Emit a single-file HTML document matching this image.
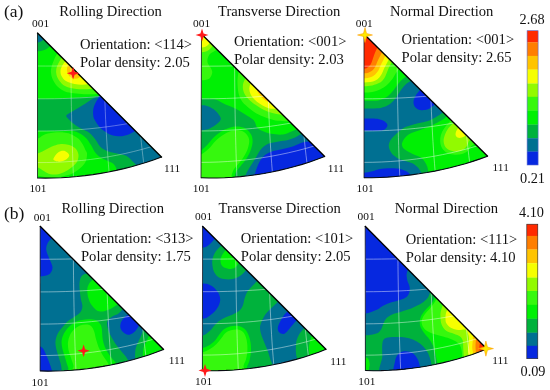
<!DOCTYPE html>
<html lang="en"><head><meta charset="utf-8"><title>Inverse pole figures</title>
<style>
html,body{margin:0;padding:0;background:#fff}
svg{display:block}
text{font-family:"Liberation Serif","Times New Roman",serif;fill:#111}
.t{font-size:14.6px}.l{font-size:11.4px}.p{font-size:17.5px}.c{font-size:14.3px}
.g{fill:none;stroke:#fff;stroke-opacity:.55;stroke-width:.8}
.o{fill:none;stroke:#0a0a14;stroke-width:1;stroke-linejoin:miter}
</style></head><body>
<svg width="550" height="390" viewBox="0 0 550 390">
<rect width="550" height="390" fill="#fff"/>
<defs>
<clipPath id="t1"><path d="M37.5 33L37.5 178L45.44 178.12L53.38 177.99L61.3 177.68L69.22 177.18L77.12 176.5L84.99 175.64L92.84 174.6L100.65 173.38L108.43 171.98L116.17 170.4L123.87 168.63L131.51 166.69L139.1 164.56L146.63 162.25L154.1 159.75L161.5 157Z"/></clipPath>
<clipPath id="t2"><path d="M201.5 34L201 177.8L208.91 178.07L216.82 178L224.72 177.72L232.6 177.25L240.47 176.58L248.32 175.72L256.14 174.67L263.93 173.43L271.68 172L279.4 170.37L287.07 168.56L294.69 166.56L302.26 164.36L309.77 161.96L317.22 159.35L324.6 156.4Z"/></clipPath>
<clipPath id="t3"><path d="M364 34L364 177.7L371.91 177.7L379.81 177.49L387.71 177.11L395.59 176.55L403.46 175.82L411.3 174.91L419.11 173.83L426.9 172.57L434.65 171.14L442.35 169.54L450.02 167.76L457.63 165.81L465.19 163.68L472.69 161.38L480.13 158.89L487.5 156.2Z"/></clipPath>
<clipPath id="t4"><path d="M40.2 226.3L40.1 370.9L48 371.13L55.9 371.05L63.79 370.75L71.66 370.26L79.52 369.58L87.36 368.71L95.17 367.65L102.94 366.41L110.69 364.97L118.39 363.35L126.05 361.53L133.65 359.52L141.21 357.33L148.7 354.93L156.14 352.33L163.5 349.4Z"/></clipPath>
<clipPath id="t5"><path d="M202.6 226.3L202.4 370.4L210.31 370.69L218.22 370.64L226.12 370.39L234.01 369.93L241.88 369.28L249.73 368.44L257.55 367.41L265.34 366.19L273.1 364.78L280.81 363.18L288.48 361.38L296.1 359.39L303.67 357.21L311.18 354.83L318.62 352.24L326 349.3Z"/></clipPath>
<clipPath id="t6"><path d="M365.2 226.3L365.4 370.5L373.18 370.72L380.95 370.63L388.71 370.32L396.46 369.83L404.19 369.14L411.9 368.26L419.58 367.19L427.24 365.94L434.85 364.5L442.43 362.87L449.96 361.05L457.45 359.04L464.88 356.83L472.25 354.44L479.56 351.83L486.8 348.9Z"/></clipPath>
<radialGradient id="ys"><stop offset="0" stop-color="#ffee00"/><stop offset=".45" stop-color="#ffdd00"/><stop offset="1" stop-color="#ffa000"/></radialGradient>
</defs>
<g clip-path="url(#t1)">
<rect x="34.5" y="30" width="130" height="151" fill="#00f004"/>
<path d="M30 139.5C31.27 133.45 35.48 139.37 37.6 138.7C39.72 138.03 41 136.37 42.7 135.5C44.4 134.63 45.88 134 47.8 133.5C49.72 133 52.07 132.7 54.2 132.5C56.33 132.3 58.47 132.22 60.6 132.3C62.73 132.38 65.28 132.68 67 133C68.72 133.32 68.97 133.25 70.9 134.2C72.83 135.15 76.57 136.88 78.6 138.7C80.63 140.52 81.95 143.18 83.1 145.1C84.25 147.02 84.85 148.8 85.5 150.2C86.15 151.6 86.95 151.67 87 153.5C87.05 155.33 86.77 158.9 85.8 161.2C84.83 163.5 83 165.52 81.2 167.3C79.4 169.08 77.18 170.62 75 171.9C72.82 173.18 70.92 174.15 68.1 175C65.28 175.85 61.57 176.62 58.1 177C54.63 177.38 50.73 177.5 47.3 177.3C43.87 177.1 40.38 176.18 37.5 175.8C34.62 175.42 31.25 181.05 30 175C28.75 168.95 28.73 145.55 30 139.5Z" fill="#36f80e"/>
<path d="M33 154.5C33.75 152.42 35.63 154.18 37.5 153.5C39.37 152.82 41.8 151.57 44.2 150.4C46.6 149.23 49.33 147.53 51.9 146.5C54.47 145.47 56.9 144.5 59.6 144.2C62.3 143.9 65.53 144.05 68.1 144.7C70.67 145.35 73.28 146.52 75 148.1C76.72 149.68 78.02 152.02 78.4 154.2C78.78 156.38 78.25 159.15 77.3 161.2C76.35 163.25 74.62 164.83 72.7 166.5C70.78 168.17 68.23 169.92 65.8 171.2C63.37 172.48 60.67 173.7 58.1 174.2C55.53 174.7 52.72 174.7 50.4 174.2C48.08 173.7 46.35 172.35 44.2 171.2C42.05 170.05 39.37 168.17 37.5 167.3C35.63 166.43 33.75 168.13 33 166C32.25 163.87 32.25 156.58 33 154.5Z" fill="#92fa00"/>
<path d="M53.5 158.5C54.02 157.12 56.32 153.68 58.1 152.4C59.88 151.12 62.35 150.37 64.2 150.8C66.05 151.23 68.82 153.6 69.2 155C69.58 156.4 67.97 158.1 66.5 159.2C65.03 160.3 62.32 161.35 60.4 161.6C58.48 161.85 56.15 161.22 55 160.7C53.85 160.18 52.98 159.88 53.5 158.5Z" fill="#f6ff00"/>
<path d="M60 50C56.2 48.93 58.2 51.93 57.2 53.6C56.2 55.27 54.95 57.77 54 60C53.05 62.23 52 64.83 51.5 67C51 69.17 50.75 70.83 51 73C51.25 75.17 51.83 77.67 53 80C54.17 82.33 56 85.08 58 87C60 88.92 62.37 90.45 65 91.5C67.63 92.55 70.63 92.85 73.8 93.3C76.97 93.75 80.8 94.03 84 94.2C87.2 94.37 90.47 94.37 93 94.3C95.53 94.23 97.03 94.18 99.2 93.8C101.37 93.42 105.87 94.3 106 92C106.13 89.7 104.33 85.33 100 80C95.67 74.67 86.67 65 80 60C73.33 55 63.8 51.07 60 50Z" fill="#36f80e"/>
<path d="M65 54C62.8 53.95 62.88 56.2 61.8 57.7C60.72 59.2 59.42 61.12 58.5 63C57.58 64.88 56.63 67 56.3 69C55.97 71 55.97 73 56.5 75C57.03 77 58.08 79.17 59.5 81C60.92 82.83 62.48 84.72 65 86C67.52 87.28 71.27 88.17 74.6 88.7C77.93 89.23 81.8 89.23 85 89.2C88.2 89.17 91.3 89.03 93.8 88.5C96.3 87.97 100.3 88.42 100 86C99.7 83.58 96.17 78.67 92 74C87.83 69.33 79.5 61.33 75 58C70.5 54.67 67.2 54.05 65 54Z" fill="#92fa00"/>
<path d="M68.5 58C66.73 58.38 66.43 60.05 65.4 61.3C64.37 62.55 63.12 63.97 62.3 65.5C61.48 67.03 60.63 68.75 60.5 70.5C60.37 72.25 60.58 74.25 61.5 76C62.42 77.75 63.82 79.67 66 81C68.18 82.33 71.93 83.37 74.6 84C77.27 84.63 79.57 84.83 82 84.8C84.43 84.77 87.03 84.43 89.2 83.8C91.37 83.17 95.2 83.3 95 81C94.8 78.7 91.17 73.67 88 70C84.83 66.33 79.25 61 76 59C72.75 57 70.27 57.62 68.5 58Z" fill="#f6ff00"/>
<path d="M70 62C68.33 61.83 68.52 63.67 68 65C67.48 66.33 66.82 68.33 66.9 70C66.98 71.67 67.65 73.67 68.5 75C69.35 76.33 70.75 77.37 72 78C73.25 78.63 74.67 78.97 76 78.8C77.33 78.63 78.83 77.8 80 77C81.17 76.2 83.33 75.83 83 74C82.67 72.17 80.17 68 78 66C75.83 64 71.67 62.17 70 62Z" fill="#ffc400"/>
<path d="M33 51.2C33.75 55.57 36.17 51.23 37.5 51.2C38.83 51.17 39.85 51.18 41 51C42.15 50.82 43.28 50.57 44.4 50.1C45.52 49.63 46.68 48.97 47.7 48.2C48.72 47.43 49.62 46.53 50.5 45.5C51.38 44.47 53.92 45.42 53 42C52.08 38.58 48.33 27.83 45 25C41.67 22.17 35 20.63 33 25C31 29.37 32.25 46.83 33 51.2Z" fill="#00b23c"/>
<path d="M33 42.5C33.75 45.42 36.17 42.67 37.5 42.5C38.83 42.33 39.92 42.08 41 41.5C42.08 40.92 43.17 39.92 44 39C44.83 38.08 46.67 38.33 46 36C45.33 33.67 42.17 26.83 40 25C37.83 23.17 34.17 22.08 33 25C31.83 27.92 32.25 39.58 33 42.5Z" fill="#007092"/>
<path d="M30 98.8C31.25 93.48 32.5 98.87 37.5 98.8C42.5 98.73 52.92 98.62 60 98.4C67.08 98.18 74.17 97.85 80 97.5C85.83 97.15 91.5 96.67 95 96.3C98.5 95.93 98.83 95.68 101 95.3C103.17 94.92 101.5 88.88 108 94C114.5 99.12 129.67 116.67 140 126C150.33 135.33 165 141.83 170 150C175 158.17 175 169.67 170 175C165 180.33 148.67 181.5 140 182C131.33 182.5 121.85 180 118 178C114.15 176 117.6 172.3 116.9 170C116.2 167.7 115.2 165.67 113.8 164.2C112.4 162.73 110.55 162.22 108.5 161.2C106.45 160.18 103.68 159.52 101.5 158.1C99.32 156.68 97.15 154.88 95.4 152.7C93.65 150.52 92.57 147.45 91 145C89.43 142.55 87.83 139.92 86 138C84.17 136.08 82.22 134.68 80 133.5C77.78 132.32 76.87 131.35 72.7 130.9C68.53 130.45 60.87 130.83 55 130.8C49.13 130.77 41.67 130.72 37.5 130.7C33.33 130.68 31.25 136.02 30 130.7C28.75 125.38 28.75 104.12 30 98.8Z" fill="#00b23c"/>
<path d="M66.3 115.6C66.63 114.65 68.38 113.87 70 112.8C71.62 111.73 73.83 110.5 76 109.2C78.17 107.9 80.67 106.47 83 105C85.33 103.53 88 101.65 90 100.4C92 99.15 93.17 98.33 95 97.5C96.83 96.67 99.17 95.98 101 95.4C102.83 94.82 99.5 88.9 106 94C112.5 99.1 129 116.33 140 126C151 135.67 166.67 143.33 172 152C177.33 160.67 177.33 174 172 178C166.67 182 145.83 177.67 140 176C134.17 174.33 137.63 169.83 137 168C136.37 166.17 136.98 166.13 136.2 165C135.42 163.87 133.97 162.73 132.3 161.2C130.63 159.67 128.77 157.08 126.2 155.8C123.63 154.52 119.98 154.27 116.9 153.5C113.82 152.73 110.52 152.37 107.7 151.2C104.88 150.03 102.05 148.43 100 146.5C97.95 144.57 97.2 141.9 95.4 139.6C93.6 137.3 91.77 134.62 89.2 132.7C86.63 130.78 82.7 129.68 80 128.1C77.3 126.52 75 124.8 73 123.2C71 121.6 69.12 119.77 68 118.5C66.88 117.23 65.97 116.55 66.3 115.6Z" fill="#007092"/>
<path d="M101.5 93C96.33 91.67 100.08 95.17 99 97C97.92 98.83 95.97 101.83 95 104C94.03 106.17 93.45 107.83 93.2 110C92.95 112.17 93.03 115 93.5 117C93.97 119 94.92 120.25 96 122C97.08 123.75 98.5 125.92 100 127.5C101.5 129.08 103.33 130.33 105 131.5C106.67 132.67 108.17 133.75 110 134.5C111.83 135.25 114 135.72 116 136C118 136.28 120 136.4 122 136.2C124 136 126.17 135.45 128 134.8C129.83 134.15 131.5 133.18 133 132.3C134.5 131.42 135.67 130.55 137 129.5C138.33 128.45 142.17 130.08 141 126C139.83 121.92 136.58 110.5 130 105C123.42 99.5 106.67 94.33 101.5 93Z" fill="#0628e0"/>
<path class="g" style="stroke-opacity:.42" d="M37.5 66.02L45.85 66.06L54.2 66.04L62.54 65.98L70.87 65.87L79.19 65.71L87.48 65.51L95.75 65.26L103.99 64.95L112.19 64.61L120.37 64.21L128.5 63.76L136.58 63.27L144.62 62.72L152.6 62.13L160.53 61.48L168.4 60.79L176.21 60.04L183.94 59.24L191.61 58.39L199.2 57.49L206.71 56.53L214.13 55.52L221.47 54.45L228.72 53.33"/>
<path class="g" style="stroke-opacity:.42" d="M37.5 98.8L45.95 98.81L54.4 98.72L62.83 98.54L71.26 98.26L79.66 97.89L88.05 97.43L96.4 96.86L104.73 96.2L113.02 95.45L121.28 94.6L129.48 93.65L137.64 92.6L145.75 91.45L153.8 90.21L161.79 88.86L169.71 87.42L177.56 85.87L185.34 84.22L193.04 82.47L200.65 80.61L208.18 78.64L215.61 76.57L222.95 74.38L230.18 72.09"/>
<path class="g" style="stroke-opacity:.42" d="M37.5 131.07L46.12 131.05L54.73 130.9L63.33 130.6L71.91 130.15L80.48 129.56L89.02 128.83L97.53 127.95L106 126.93L114.44 125.76L122.83 124.45L131.17 122.99L139.45 121.39L147.68 119.63L155.84 117.73L163.92 115.68L171.94 113.47L179.87 111.12L187.71 108.61L195.46 105.95L203.12 103.13L210.67 100.16L218.11 97.02L225.44 93.73L232.64 90.27"/>
<path class="g" style="stroke-opacity:.42" d="M37.5 162.59L46.36 162.56L55.21 162.33L64.04 161.9L72.86 161.28L81.66 160.47L90.43 159.47L99.16 158.27L107.85 156.88L116.49 155.29L125.08 153.5L133.61 151.52L142.07 149.34L150.46 146.97L158.78 144.4L167 141.63L175.14 138.66L183.18 135.48L191.12 132.11L198.94 128.54L206.64 124.75L214.22 120.77L221.67 116.57L228.98 112.17L236.14 107.56"/>
<path class="g" style="stroke-opacity:.42" d="M70.75 33.22L70.76 41.4L70.78 49.56L70.82 57.72L70.87 65.87L70.94 74L71.03 82.11L71.14 90.2L71.26 98.26L71.39 106.29L71.55 114.29L71.72 122.24L71.91 130.15L72.12 138.02L72.35 145.83L72.6 153.59L72.86 161.28L73.15 168.92L73.46 176.49L73.8 183.99L74.15 191.42"/>
<path class="g" style="stroke-opacity:.42" d="M103.74 33.45L103.76 41.33L103.8 49.22L103.88 57.09L103.99 64.95L104.13 72.8L104.3 80.63L104.5 88.43L104.73 96.2L105 103.94L105.3 111.65L105.63 119.31L106 126.93L106.41 134.5L106.85 142.02L107.33 149.48L107.85 156.88L108.41 164.21L109.01 171.47L109.65 178.66L110.34 185.77"/>
<path class="g" style="stroke-opacity:.42" d="M136.23 33.66L136.25 41.08L136.32 48.48L136.43 55.88L136.58 63.27L136.78 70.64L137.02 77.98L137.31 85.31L137.64 92.6L138.02 99.86L138.45 107.08L138.93 114.26L139.45 121.39L140.03 128.46L140.66 135.49L141.34 142.45L142.07 149.34L142.86 156.17L143.71 162.92L144.63 169.6L145.6 176.19"/>
</g>
<path class="o" style="stroke-width:.8;stroke:#1a1a22" d="M37.5 32.7L37.5 178.4"/>
<path class="o" style="stroke-width:1.1" d="M37.5 178L45.44 178.12L53.38 177.99L61.3 177.68L69.22 177.18L77.12 176.5L84.99 175.64L92.84 174.6L100.65 173.38L108.43 171.98L116.17 170.4L123.87 168.63L131.51 166.69L139.1 164.56L146.63 162.25L154.1 159.75L161.5 157"/>
<path class="o" style="stroke-width:1.35;stroke:#000" d="M37.2 32.7L161.9 157.4"/>
<g clip-path="url(#t2)">
<rect x="198.5" y="31" width="129.1" height="149.8" fill="#00f004"/>
<path d="M196 33C199.67 28.03 214.58 47.67 218 50.5C221.42 53.33 217.42 49.7 216.5 50C215.58 50.3 213.67 51.53 212.5 52.3C211.33 53.07 210.33 53.45 209.5 54.6C208.67 55.75 207.8 57.78 207.5 59.2C207.2 60.62 207.37 61.97 207.7 63.1C208.03 64.23 208.93 65.1 209.5 66C210.07 66.9 210.65 67.58 211.1 68.5C211.55 69.42 212.08 70.48 212.2 71.5C212.32 72.52 212.25 73.43 211.8 74.6C211.35 75.77 210.63 77.6 209.5 78.5C208.37 79.4 206.35 79.7 205 80C203.65 80.3 202.9 80.25 201.4 80.3C199.9 80.35 196.9 88.18 196 80.3C195.1 72.42 192.33 37.97 196 33Z" fill="#36f80e"/>
<path d="M196 52.3C196.92 56.35 199.83 52.43 201.5 52.3C203.17 52.17 204.58 52.05 206 51.5C207.42 50.95 208.83 50 210 49C211.17 48 212.17 46.67 213 45.5C213.83 44.33 216.33 44.92 215 42C213.67 39.08 208.17 30.33 205 28C201.83 25.67 197.5 23.95 196 28C194.5 32.05 195.08 48.25 196 52.3Z" fill="#92fa00"/>
<path d="M196 47.6C196.92 50.87 199.92 47.73 201.5 47.6C203.08 47.47 204.33 47.32 205.5 46.8C206.67 46.28 207.67 45.38 208.5 44.5C209.33 43.62 209.92 42.42 210.5 41.5C211.08 40.58 213.08 41.25 212 39C210.92 36.75 206.67 29.83 204 28C201.33 26.17 197.33 24.73 196 28C194.67 31.27 195.08 44.33 196 47.6Z" fill="#f6ff00"/>
<path d="M240 68C236.42 66.75 238.92 70.5 238.5 72.5C238.08 74.5 237.62 77.42 237.5 80C237.38 82.58 237.55 85.5 237.8 88C238.05 90.5 238.22 92.67 239 95C239.78 97.33 240.75 99.75 242.5 102C244.25 104.25 247.17 106.58 249.5 108.5C251.83 110.42 253.92 112.03 256.5 113.5C259.08 114.97 261.85 116.13 265 117.3C268.15 118.47 272.07 119.85 275.4 120.5C278.73 121.15 282.23 121.03 285 121.2C287.77 121.37 289.83 121.37 292 121.5C294.17 121.63 299.17 125.58 298 122C296.83 118.42 291.33 107 285 100C278.67 93 267.5 85.33 260 80C252.5 74.67 243.58 69.25 240 68Z" fill="#36f80e"/>
<path d="M248 74C245.97 73.62 246.58 76.18 245.8 77.7C245.02 79.22 243.77 81.18 243.3 83.1C242.83 85.02 242.63 87.13 243 89.2C243.37 91.27 244.25 93.53 245.5 95.5C246.75 97.47 248.58 99.28 250.5 101C252.42 102.72 254.75 104.3 257 105.8C259.25 107.3 261.45 108.8 264 110C266.55 111.2 269.63 112.23 272.3 113C274.97 113.77 277.95 114.07 280 114.6C282.05 115.13 282.93 115.88 284.6 116.2C286.27 116.52 291.6 120.03 290 116.5C288.4 112.97 280.33 101.08 275 95C269.67 88.92 262.5 83.5 258 80C253.5 76.5 250.03 74.38 248 74Z" fill="#92fa00"/>
<path d="M253 80C249.8 78.35 251.42 81.68 250.8 83.1C250.18 84.52 249.35 86.68 249.3 88.5C249.25 90.32 249.63 92.17 250.5 94C251.37 95.83 253 97.92 254.5 99.5C256 101.08 257.75 102.28 259.5 103.5C261.25 104.72 263.12 105.92 265 106.8C266.88 107.68 268.82 108.4 270.8 108.8C272.78 109.2 275.45 108.95 276.9 109.2C278.35 109.45 278.32 110 279.5 110.3C280.68 110.6 285.58 113.88 284 111C282.42 108.12 275.17 98.17 270 93C264.83 87.83 256.2 81.65 253 80Z" fill="#f6ff00"/>
<path d="M257 88C256.33 88.25 257.33 91.08 258 92.5C258.67 93.92 259.92 95.28 261 96.5C262.08 97.72 263.33 98.92 264.5 99.8C265.67 100.68 267.08 101.6 268 101.8C268.92 102 271 102.8 270 101C269 99.2 264.17 93.17 262 91C259.83 88.83 257.67 87.75 257 88Z" fill="#ffc400"/>
<path d="M196 98.8C196.77 84.43 197.7 98.75 200.6 98.8C203.5 98.85 210.2 98.67 213.4 99.1C216.6 99.53 217.45 100.37 219.8 101.4C222.15 102.43 224.93 104.12 227.5 105.3C230.07 106.48 232.85 107.33 235.2 108.5C237.55 109.67 239.47 111.02 241.6 112.3C243.73 113.58 246.1 115 248 116.2C249.9 117.4 251.78 118.37 253 119.5C254.22 120.63 254.67 121.75 255.3 123C255.93 124.25 255.7 125.7 256.8 127C257.9 128.3 259.5 129.67 261.9 130.8C264.3 131.93 267.68 133.18 271.2 133.8C274.72 134.42 279.62 134.88 283 134.5C286.38 134.12 288.92 132.5 291.5 131.5C294.08 130.5 296.25 129.42 298.5 128.5C300.75 127.58 299.75 122.42 305 126C310.25 129.58 325.83 140.17 330 150C334.17 159.83 352.33 179.17 330 185C307.67 190.83 218.33 199.37 196 185C173.67 170.63 195.23 113.17 196 98.8Z" fill="#00b23c"/>
<path d="M196 151C196.83 145.57 199.13 151.4 201 150.4C202.87 149.4 205.13 147.1 207.2 145C209.27 142.9 211.02 140.08 213.4 137.8C215.78 135.52 218.82 132.97 221.5 131.3C224.18 129.63 226.75 128.58 229.5 127.8C232.25 127.02 235.3 126.43 238 126.6C240.7 126.77 243.52 127.47 245.7 128.8C247.88 130.13 249.95 132.42 251.1 134.6C252.25 136.78 252.73 139.13 252.6 141.9C252.47 144.67 251.45 148.25 250.3 151.2C249.15 154.15 247.37 157.05 245.7 159.6C244.03 162.15 241.83 164.57 240.3 166.5C238.77 168.43 237.4 169.78 236.5 171.2C235.6 172.62 235.32 173.37 234.9 175C234.48 176.63 240.48 179.67 234 181C227.52 182.33 202.33 188 196 183C189.67 178 195.17 156.43 196 151Z" fill="#00f004"/>
<path d="M196 155C196.83 150.25 198.83 155.58 201 154.5C203.17 153.42 206.58 150.75 209 148.5C211.42 146.25 213.17 143.25 215.5 141C217.83 138.75 220.5 136.62 223 135C225.5 133.38 228 132.08 230.5 131.3C233 130.52 235.75 130.18 238 130.3C240.25 130.42 242.33 130.97 244 132C245.67 133.03 247.13 134.83 248 136.5C248.87 138.17 249.32 139.75 249.2 142C249.08 144.25 248.33 147.33 247.3 150C246.27 152.67 244.63 155.5 243 158C241.37 160.5 239.08 163 237.5 165C235.92 167 234.5 168.17 233.5 170C232.5 171.83 231.92 174.17 231.5 176C231.08 177.83 236.92 179.83 231 181C225.08 182.17 201.83 187.33 196 183C190.17 178.67 195.17 159.75 196 155Z" fill="#36f80e"/>
<path d="M196 105.2C196.77 101.02 198.77 105.18 200.6 105.3C202.43 105.42 204.87 105.27 207 105.9C209.13 106.53 211.48 107.72 213.4 109.1C215.32 110.48 217.27 112.6 218.5 114.2C219.73 115.8 220.8 117.3 220.8 118.7C220.8 120.1 219.73 121.32 218.5 122.6C217.27 123.88 215.32 125.27 213.4 126.4C211.48 127.53 209.13 128.75 207 129.4C204.87 130.05 202.43 130.13 200.6 130.3C198.77 130.47 196.77 134.58 196 130.4C195.23 126.22 195.23 109.38 196 105.2Z" fill="#007092"/>
<path d="M246.5 180C231.67 178.23 245.58 176.32 246 174.4C246.42 172.48 247.92 170.4 249 168.5C250.08 166.6 251.25 165 252.5 163C253.75 161 255.12 158.75 256.5 156.5C257.88 154.25 258.87 151.62 260.8 149.5C262.73 147.38 265.1 145.13 268.1 143.8C271.1 142.47 275.48 142.13 278.8 141.5C282.12 140.87 285.3 140.67 288 140C290.7 139.33 293 138.37 295 137.5C297 136.63 298.63 135.48 300 134.8C301.37 134.12 301.87 134.03 303.2 133.4C304.53 132.77 302.7 127.4 308 131C313.3 134.6 330.5 146 335 155C339.5 164 349.75 180.83 335 185C320.25 189.17 261.33 181.77 246.5 180Z" fill="#007092"/>
<path d="M255.5 180C242.22 178 255.05 175.08 255.3 173C255.55 170.92 256.22 169.5 257 167.5C257.78 165.5 258.75 163 260 161C261.25 159 262.83 156.97 264.5 155.5C266.17 154.03 267.92 153.07 270 152.2C272.08 151.33 274.5 150.9 277 150.3C279.5 149.7 282.25 149.27 285 148.6C287.75 147.93 290.58 147.3 293.5 146.3C296.42 145.3 299.75 143.43 302.5 142.6C305.25 141.77 307.75 141.73 310 141.3C312.25 140.87 311.83 137.22 316 140C320.17 142.78 331.83 150.5 335 158C338.17 165.5 348.25 181.33 335 185C321.75 188.67 268.78 182 255.5 180Z" fill="#0628e0"/>
<path class="g" d="M201.39 66.19L209.71 66.17L218.03 66.11L226.34 66L234.63 65.85L242.91 65.65L251.18 65.4L259.41 65.1L267.62 64.75L275.8 64.36L283.94 63.92L292.04 63.43L300.1 62.89L308.11 62.31L316.07 61.67L323.97 60.98L331.81 60.25L339.59 59.46L347.3 58.62L354.93 57.74L362.5 56.79L369.98 55.8L377.38 54.75L384.7 53.65L391.92 52.49"/>
<path class="g" d="M201.27 98.82L209.69 98.79L218.1 98.65L226.51 98.43L234.9 98.11L243.28 97.69L251.63 97.18L259.96 96.57L268.26 95.87L276.52 95.07L284.74 94.18L292.92 93.19L301.06 92.1L309.14 90.91L317.16 89.63L325.12 88.24L333.02 86.76L340.85 85.17L348.6 83.49L356.28 81.7L363.87 79.81L371.37 77.81L378.78 75.7L386.1 73.49L393.31 71.16"/>
<path class="g" d="M201.16 130.96L209.74 130.9L218.32 130.7L226.89 130.35L235.44 129.86L243.98 129.23L252.49 128.45L260.97 127.53L269.42 126.46L277.82 125.25L286.19 123.9L294.5 122.4L302.76 120.75L310.96 118.96L319.09 117.02L327.16 114.93L335.15 112.69L343.05 110.31L350.88 107.77L358.61 105.07L366.24 102.22L373.78 99.22L381.2 96.06L388.51 92.73L395.7 89.25"/>
<path class="g" d="M201.05 162.36L209.88 162.27L218.69 161.99L227.5 161.52L236.29 160.86L245.05 160L253.79 158.95L262.49 157.71L271.15 156.27L279.77 154.64L288.33 152.82L296.83 150.8L305.27 148.58L313.64 146.17L321.93 143.57L330.14 140.76L338.25 137.76L346.27 134.55L354.19 131.15L361.99 127.55L369.68 123.74L377.25 119.73L384.68 115.51L391.98 111.08L399.12 106.45"/>
<path class="g" d="M234.62 33.34L234.6 41.48L234.59 49.61L234.61 57.74L234.63 65.85L234.68 73.95L234.73 82.02L234.81 90.08L234.9 98.11L235.01 106.1L235.14 114.06L235.28 121.98L235.44 129.86L235.63 137.69L235.83 145.47L236.05 153.19L236.29 160.86L236.55 168.46L236.83 176L237.14 183.46L237.47 190.86"/>
<path class="g" d="M267.49 33.38L267.48 41.23L267.49 49.08L267.54 56.92L267.62 64.75L267.73 72.57L267.88 80.36L268.05 88.13L268.26 95.87L268.5 103.58L268.77 111.25L269.08 118.88L269.42 126.46L269.79 134L270.21 141.48L270.66 148.91L271.15 156.27L271.69 163.57L272.26 170.8L272.88 177.96L273.54 185.04"/>
<path class="g" d="M299.85 33.41L299.85 40.79L299.89 48.17L299.97 55.54L300.1 62.89L300.27 70.23L300.49 77.55L300.75 84.84L301.06 92.1L301.41 99.32L301.81 106.51L302.26 113.66L302.76 120.75L303.31 127.8L303.91 134.79L304.56 141.72L305.27 148.58L306.04 155.38L306.86 162.1L307.75 168.74L308.69 175.3"/>
</g>
<path class="o" style="stroke-width:.8;stroke:#1a1a22" d="M201.5 33.7L201 178.2"/>
<path class="o" style="stroke-width:1.1" d="M201 177.8L208.91 178.07L216.82 178L224.72 177.72L232.6 177.25L240.47 176.58L248.32 175.72L256.14 174.67L263.93 173.43L271.68 172L279.4 170.37L287.07 168.56L294.69 166.56L302.26 164.36L309.77 161.96L317.22 159.35L324.6 156.4"/>
<path class="o" style="stroke-width:1.35;stroke:#000" d="M201.2 33.7L325 156.8"/>
<g clip-path="url(#t3)">
<rect x="361" y="31" width="129.5" height="149.7" fill="#007092"/>
<path d="M358 108.5C359 122.42 361.62 108.5 364 108.5C366.38 108.5 369.38 108.63 372.3 108.5C375.22 108.37 378.68 108.35 381.5 107.7C384.32 107.05 386.88 106.13 389.2 104.6C391.52 103.07 393.6 100.68 395.4 98.5C397.2 96.32 398.47 93.65 400 91.5C401.53 89.35 403.18 87.13 404.6 85.6C406.02 84.07 407.35 83.07 408.5 82.3C409.65 81.53 410.25 81.55 411.5 81C412.75 80.45 417.92 84.17 416 79C414.08 73.83 407.67 59 400 50C392.33 41 377 29.17 370 25C363 20.83 360 11.08 358 25C356 38.92 357 94.58 358 108.5Z" fill="#00b23c"/>
<path d="M358 100.8C359 113.43 361.62 100.8 364 100.8C366.38 100.8 369.63 100.93 372.3 100.8C374.97 100.67 377.43 100.77 380 100C382.57 99.23 385.4 97.87 387.7 96.2C390 94.53 392.03 92.07 393.8 90C395.57 87.93 396.85 85.58 398.3 83.8C399.75 82.02 401.18 80.52 402.5 79.3C403.82 78.08 404.95 77.38 406.2 76.5C407.45 75.62 411.87 78.42 410 74C408.13 69.58 401.67 58.17 395 50C388.33 41.83 376.17 29.17 370 25C363.83 20.83 360 12.37 358 25C356 37.63 357 88.17 358 100.8Z" fill="#00f004"/>
<path d="M358 92.5C359 103.75 361.62 92.58 364 92.5C366.38 92.42 369.63 92.5 372.3 92C374.97 91.5 377.55 90.67 380 89.5C382.45 88.33 385 86.67 387 85C389 83.33 390.5 81.5 392 79.5C393.5 77.5 394.75 74.83 396 73C397.25 71.17 398.33 69.83 399.5 68.5C400.67 67.17 404.58 68.92 403 65C401.42 61.08 395.5 51.67 390 45C384.5 38.33 375.33 28.33 370 25C364.67 21.67 360 13.75 358 25C356 36.25 357 81.25 358 92.5Z" fill="#36f80e"/>
<path d="M358 86.3C359 96.5 361.62 86.35 364 86.2C366.38 86.05 369.72 85.97 372.3 85.4C374.88 84.83 377.72 83.7 379.5 82.8C381.28 81.9 382.02 81.1 383 80C383.98 78.9 384.67 77.67 385.4 76.2C386.13 74.73 386.68 72.9 387.4 71.2C388.12 69.5 388.88 67.63 389.7 66C390.52 64.37 391.42 62.82 392.3 61.4C393.18 59.98 396.22 61.07 395 57.5C393.78 53.93 389.17 45.42 385 40C380.83 34.58 374.5 27.5 370 25C365.5 22.5 360 14.78 358 25C356 35.22 357 76.1 358 86.3Z" fill="#92fa00"/>
<path d="M358 82.6C359 92.18 361.95 82.6 364 82.5C366.05 82.4 368.4 82.33 370.3 82C372.2 81.67 373.9 81.25 375.4 80.5C376.9 79.75 378.2 78.67 379.3 77.5C380.4 76.33 381.2 74.98 382 73.5C382.8 72.02 383.32 70.27 384.1 68.6C384.88 66.93 385.85 65.13 386.7 63.5C387.55 61.87 388.32 60.3 389.2 58.8C390.08 57.3 393.53 57.97 392 54.5C390.47 51.03 384 42.92 380 38C376 33.08 371.67 27.17 368 25C364.33 22.83 359.67 15.4 358 25C356.33 34.6 357 73.02 358 82.6Z" fill="#f6ff00"/>
<path d="M358 78.2C359 87.07 362.42 78.25 364 78.2C365.58 78.15 366.28 78.1 367.5 77.9C368.72 77.7 370.02 77.57 371.3 77C372.58 76.43 374.02 75.57 375.2 74.5C376.38 73.43 377.52 72.1 378.4 70.6C379.28 69.1 379.72 67.2 380.5 65.5C381.28 63.8 382.25 62.1 383.1 60.4C383.95 58.7 384.78 56.78 385.6 55.3C386.42 53.82 389.27 54.72 388 51.5C386.73 48.28 381.67 40.42 378 36C374.33 31.58 369.33 26.83 366 25C362.67 23.17 359.33 16.13 358 25C356.67 33.87 357 69.33 358 78.2Z" fill="#ffc400"/>
<path d="M358 73.2C359 81.23 362.3 73.28 364 73.2C365.7 73.12 366.82 73.13 368.2 72.7C369.58 72.27 371.1 71.63 372.3 70.6C373.5 69.57 374.55 68.03 375.4 66.5C376.25 64.97 376.63 63.1 377.4 61.4C378.17 59.7 379.22 57.83 380 56.3C380.78 54.77 381.35 53.5 382.1 52.2C382.85 50.9 385.52 51.53 384.5 48.5C383.48 45.47 379.08 37.92 376 34C372.92 30.08 369 26.5 366 25C363 23.5 359.33 16.97 358 25C356.67 33.03 357 65.17 358 73.2Z" fill="#ff7e00"/>
<path d="M358 68.8C359 76.1 362.47 68.97 364 68.8C365.53 68.63 366.15 68.43 367.2 67.8C368.25 67.17 369.45 66.23 370.3 65C371.15 63.77 371.62 62.2 372.3 60.4C372.98 58.6 373.55 56.33 374.4 54.2C375.25 52.07 376.47 49.47 377.4 47.6C378.33 45.73 380.9 45.93 380 43C379.1 40.07 375.67 33 372 30C368.33 27 360.33 18.53 358 25C355.67 31.47 357 61.5 358 68.8Z" fill="#ff2a00"/>
<path d="M447 108.5C442.48 105.6 444.15 111.52 442.9 112.6C441.65 113.68 440.7 114.23 439.5 115C438.3 115.77 436.95 116.48 435.7 117.2C434.45 117.92 433.2 118.7 432 119.3C430.8 119.9 430 120.3 428.5 120.8C427 121.3 424.7 121.88 423 122.3C421.3 122.72 420.02 122.88 418.3 123.3C416.58 123.72 414.92 124.13 412.7 124.8C410.48 125.47 407.12 126.3 405 127.3C402.88 128.3 401.83 129.35 400 130.8C398.17 132.25 395.67 134.3 394 136C392.33 137.7 390.88 139.37 390 141C389.12 142.63 388.7 144.22 388.7 145.8C388.7 147.38 389.2 148.92 390 150.5C390.8 152.08 391.88 153.83 393.5 155.3C395.12 156.77 397.58 158.32 399.7 159.3C401.82 160.28 404.1 160.53 406.2 161.2C408.3 161.87 410.43 162.33 412.3 163.3C414.17 164.27 416.03 165.68 417.4 167C418.77 168.32 419.78 170.03 420.5 171.2C421.22 172.37 421.45 172.53 421.7 174C421.95 175.47 409.78 179 422 180C434.22 181 482.83 183.33 495 180C507.17 176.67 499.17 168.33 495 160C490.83 151.67 478 138.58 470 130C462 121.42 451.52 111.4 447 108.5Z" fill="#00b23c"/>
<path d="M450.5 113.5C446.58 110.95 447.6 115.83 446.5 116.7C445.4 117.57 445.18 117.85 443.9 118.7C442.62 119.55 440.77 120.68 438.8 121.8C436.83 122.92 434.15 124.47 432.1 125.4C430.05 126.33 428.47 126.63 426.5 127.4C424.53 128.17 422.35 129.22 420.3 130C418.25 130.78 416.08 131.38 414.2 132.1C412.32 132.82 410.57 133.32 409 134.3C407.43 135.28 405.97 136.47 404.8 138C403.63 139.53 402.27 141.83 402 143.5C401.73 145.17 402.2 146.67 403.2 148C404.2 149.33 406.32 150.47 408 151.5C409.68 152.53 411.22 153.23 413.3 154.2C415.38 155.17 418.62 156.1 420.5 157.3C422.38 158.5 423.48 159.87 424.6 161.4C425.72 162.93 426.6 164.78 427.2 166.5C427.8 168.22 427.98 169.45 428.2 171.7C428.42 173.95 417.37 178.62 428.5 180C439.63 181.38 483.92 183.33 495 180C506.08 176.67 499.17 168 495 160C490.83 152 477.42 139.75 470 132C462.58 124.25 454.42 116.05 450.5 113.5Z" fill="#00f004"/>
<path d="M453 119C450.42 118 450.75 120.75 449.5 122C448.25 123.25 446.75 124.83 445.5 126.5C444.25 128.17 442.87 130.08 442 132C441.13 133.92 440.55 136 440.3 138C440.05 140 440.05 142.08 440.5 144C440.95 145.92 441.75 147.95 443 149.5C444.25 151.05 446 152.42 448 153.3C450 154.18 452.67 154.68 455 154.8C457.33 154.92 459.92 154.63 462 154C464.08 153.37 466 152.25 467.5 151C469 149.75 469.92 148 471 146.5C472.08 145 475 145.08 474 142C473 138.92 468.5 131.83 465 128C461.5 124.17 455.58 120 453 119Z" fill="#36f80e"/>
<path d="M456 119.5C454.52 119.2 454.35 121.77 453.1 123.2C451.85 124.63 449.83 126.27 448.5 128.1C447.17 129.93 445.92 132.05 445.1 134.2C444.28 136.35 443.52 138.82 443.6 141C443.68 143.18 444.45 145.7 445.6 147.3C446.75 148.9 448.62 149.88 450.5 150.6C452.38 151.32 454.8 151.73 456.9 151.6C459 151.47 461.43 150.73 463.1 149.8C464.77 148.87 465.92 147.47 466.9 146C467.88 144.53 468.15 142.33 469 141C469.85 139.67 473.17 140.67 472 138C470.83 135.33 464.67 128.08 462 125C459.33 121.92 457.48 119.8 456 119.5Z" fill="#92fa00"/>
<path d="M460.5 124.5C459.92 124.58 459.2 126.42 458.5 127.5C457.8 128.58 456.78 129.75 456.3 131C455.82 132.25 455.4 133.92 455.6 135C455.8 136.08 456.6 137.03 457.5 137.5C458.4 137.97 459.88 137.97 461 137.8C462.12 137.63 463.2 136.97 464.2 136.5C465.2 136.03 466.37 135.75 467 135C467.63 134.25 468.83 133.33 468 132C467.17 130.67 463.25 128.25 462 127C460.75 125.75 461.08 124.42 460.5 124.5Z" fill="#f6ff00"/>
<path d="M358 118.4C359 116.35 361.67 118.37 364 118.4C366.33 118.43 369.5 118.47 372 118.6C374.5 118.73 377 118.8 379 119.2C381 119.6 382.62 120.12 384 121C385.38 121.88 386.88 123.42 387.3 124.5C387.72 125.58 387.13 126.58 386.5 127.5C385.87 128.42 384.92 129.47 383.5 130C382.08 130.53 381.25 130.58 378 130.7C374.75 130.82 367.33 130.7 364 130.7C360.67 130.7 359 132.75 358 130.7C357 128.65 357 120.45 358 118.4Z" fill="#0628e0"/>
<path d="M421 88C419.6 88.08 420.47 89.27 419.6 90.5C418.73 91.73 416.82 93.57 415.8 95.4C414.78 97.23 413.63 99.58 413.5 101.5C413.37 103.42 413.85 105.48 415 106.9C416.15 108.32 418.35 109.57 420.4 110C422.45 110.43 425.45 110 427.3 109.5C429.15 109 430.15 107.9 431.5 107C432.85 106.1 434.32 105.27 435.4 104.1C436.48 102.93 439.23 102.35 438 100C436.77 97.65 430.83 92 428 90C425.17 88 422.4 87.92 421 88Z" fill="#0628e0"/>
<path d="M358 173C359 171.3 361.62 173.08 364 172.8C366.38 172.52 369.63 171.93 372.3 171.3C374.97 170.67 377.3 169.52 380 169C382.7 168.48 385.67 168.27 388.5 168.2C391.33 168.13 394.37 168.22 397 168.6C399.63 168.98 402.38 169.8 404.3 170.5C406.22 171.2 407.47 171.97 408.5 172.8C409.53 173.63 410.08 174.13 410.5 175.5C410.92 176.87 419.75 179.75 411 181C402.25 182.25 366.83 184.33 358 183C349.17 181.67 357 174.7 358 173Z" fill="#0628e0"/>
<path class="g" d="M364 66.19L372.31 66.17L380.61 66.11L388.9 66L397.19 65.85L405.45 65.65L413.7 65.4L421.92 65.1L430.11 64.75L438.27 64.36L446.4 63.92L454.48 63.43L462.52 62.89L470.51 62.31L478.46 61.67L486.34 60.98L494.16 60.25L501.92 59.46L509.62 58.62L517.24 57.74L524.79 56.79L532.25 55.8L539.64 54.75L546.93 53.65L554.14 52.49"/>
<path class="g" d="M364 98.82L372.4 98.79L380.8 98.65L389.19 98.43L397.57 98.11L405.92 97.69L414.26 97.18L422.57 96.57L430.85 95.87L439.1 95.07L447.3 94.18L455.46 93.19L463.58 92.1L471.64 90.91L479.64 89.63L487.59 88.24L495.47 86.76L503.27 85.17L511.01 83.49L518.66 81.7L526.23 79.81L533.72 77.81L541.11 75.7L548.4 73.49L555.59 71.16"/>
<path class="g" d="M364 130.96L372.57 130.9L381.13 130.7L389.68 130.35L398.22 129.86L406.73 129.23L415.23 128.45L423.69 127.53L432.12 126.46L440.5 125.25L448.85 123.9L457.14 122.4L465.38 120.75L473.55 118.96L481.67 117.02L489.71 114.93L497.68 112.69L505.56 110.31L513.36 107.77L521.07 105.07L528.68 102.22L536.19 99.22L543.59 96.06L550.88 92.73L558.04 89.25"/>
<path class="g" d="M364 162.36L372.81 162.27L381.61 161.99L390.39 161.52L399.16 160.86L407.91 160L416.63 158.95L425.31 157.71L433.95 156.27L442.54 154.64L451.09 152.82L459.57 150.8L467.98 148.58L476.33 146.17L484.59 143.57L492.77 140.76L500.86 137.76L508.86 134.55L516.75 131.15L524.53 127.55L532.19 123.74L539.73 119.73L547.13 115.51L554.4 111.08L561.52 106.45"/>
<path class="g" d="M397.06 33.34L397.07 41.48L397.09 49.61L397.13 57.74L397.19 65.85L397.26 73.95L397.34 82.02L397.45 90.08L397.57 98.11L397.7 106.1L397.86 114.06L398.03 121.98L398.22 129.86L398.42 137.69L398.65 145.47L398.9 153.19L399.16 160.86L399.45 168.46L399.76 176L400.09 183.46L400.45 190.86"/>
<path class="g" d="M429.87 33.38L429.88 41.23L429.93 49.08L430 56.92L430.11 64.75L430.25 72.57L430.42 80.36L430.62 88.13L430.85 95.87L431.12 103.58L431.42 111.25L431.75 118.88L432.12 126.46L432.52 134L432.96 141.48L433.44 148.91L433.95 156.27L434.51 163.57L435.11 170.8L435.75 177.96L436.43 185.04"/>
<path class="g" d="M462.17 33.41L462.2 40.79L462.26 48.17L462.37 55.54L462.52 62.89L462.72 70.23L462.96 77.55L463.25 84.84L463.58 92.1L463.96 99.32L464.38 106.51L464.85 113.66L465.38 120.75L465.95 127.8L466.57 134.79L467.25 141.72L467.98 148.58L468.77 155.38L469.61 162.1L470.52 168.74L471.49 175.3"/>
</g>
<path class="o" style="stroke-width:.8;stroke:#1a1a22" d="M364 33.7L364 178.1"/>
<path class="o" style="stroke-width:1.1" d="M364 177.7L371.91 177.7L379.81 177.49L387.71 177.11L395.59 176.55L403.46 175.82L411.3 174.91L419.11 173.83L426.9 172.57L434.65 171.14L442.35 169.54L450.02 167.76L457.63 165.81L465.19 163.68L472.69 161.38L480.13 158.89L487.5 156.2"/>
<path class="o" style="stroke-width:1.35;stroke:#000" d="M363.7 33.7L487.9 156.6"/>
<g clip-path="url(#t4)">
<rect x="37.2" y="223.3" width="129.3" height="150.6" fill="#007092"/>
<path d="M92 270C85.33 264.97 89.22 273.13 88 273.8C86.78 274.47 85.87 273.47 84.7 274C83.53 274.53 81.87 275.43 81 277C80.13 278.57 79.7 281.05 79.5 283.4C79.3 285.75 79.58 288.53 79.8 291.1C80.02 293.67 80.37 296.23 80.8 298.8C81.23 301.37 82.52 304.2 82.4 306.5C82.28 308.8 81.52 310.82 80.1 312.6C78.68 314.38 75.95 315.77 73.9 317.2C71.85 318.63 69.72 319.52 67.8 321.2C65.88 322.88 64.07 325.25 62.4 327.3C60.73 329.35 58.95 331.18 57.8 333.5C56.65 335.82 55.77 338.65 55.5 341.2C55.23 343.75 55.7 346.25 56.2 348.8C56.7 351.35 57.73 353.93 58.5 356.5C59.27 359.07 60.28 362.02 60.8 364.2C61.32 366.38 61.4 367.63 61.6 369.6C61.8 371.57 51.02 376.6 62 376C72.98 375.4 116.62 368.85 127.5 366C138.38 363.15 128.23 361.23 127.3 358.9C126.37 356.57 123.82 354.43 121.9 352C119.98 349.57 117.72 347.12 115.8 344.3C113.88 341.48 111.78 337.98 110.4 335.1C109.02 332.22 107.98 329.38 107.5 327C107.02 324.62 106.7 322.55 107.5 320.8C108.3 319.05 110.47 317.72 112.3 316.5C114.13 315.28 116.58 314.9 118.5 313.5C120.42 312.1 122.22 309.68 123.8 308.1C125.38 306.52 133.3 310.35 128 304C122.7 297.65 98.67 275.03 92 270Z" fill="#00b23c"/>
<path d="M146 326C144.58 325.93 144.3 327.97 143.5 329.6C142.7 331.23 142.08 333.75 141.2 335.8C140.32 337.85 139.1 339.85 138.2 341.9C137.3 343.95 136.32 346.05 135.8 348.1C135.28 350.15 135.22 352.42 135.1 354.2C134.98 355.98 135.12 356.83 135.1 358.8C135.08 360.77 128.85 365.47 135 366C141.15 366.53 165.83 364.67 172 362C178.17 359.33 175.33 355.33 172 350C168.67 344.67 156.33 334 152 330C147.67 326 147.42 326.07 146 326Z" fill="#00b23c"/>
<path d="M96 275.5C93.18 274.6 94.18 278.35 93.1 279.6C92.02 280.85 90.45 281.58 89.5 283C88.55 284.42 87.72 286.23 87.4 288.1C87.08 289.97 87.38 292.38 87.6 294.2C87.82 296.02 88.1 297.28 88.7 299C89.3 300.72 89.83 302.6 91.2 304.5C92.57 306.4 94.92 309.25 96.9 310.4C98.88 311.55 100.78 311.67 103.1 311.4C105.42 311.13 108.5 309.87 110.8 308.8C113.1 307.73 115.42 305.77 116.9 305C118.38 304.23 118.52 304.7 119.7 304.2C120.88 303.7 125.62 305.2 124 302C122.38 298.8 114.67 289.42 110 285C105.33 280.58 98.82 276.4 96 275.5Z" fill="#00f004"/>
<path d="M68.5 374C60.42 373.8 68.75 370.43 68.5 368.8C68.25 367.17 67.63 366.25 67 364.2C66.37 362.15 65.47 359.07 64.7 356.5C63.93 353.93 62.92 351.35 62.4 348.8C61.88 346.25 61.35 343.75 61.6 341.2C61.85 338.65 62.62 335.95 63.9 333.5C65.18 331.05 67.37 328.42 69.3 326.5C71.23 324.58 73.38 323.08 75.5 322C77.62 320.92 79.72 320.45 82 320C84.28 319.55 86.87 319.25 89.2 319.3C91.53 319.35 94.12 319.43 96 320.3C97.88 321.17 99.5 322.88 100.5 324.5C101.5 326.12 101.7 328.08 102 330C102.3 331.92 102.05 333.83 102.3 336C102.55 338.17 102.8 340.58 103.5 343C104.2 345.42 105.22 348.1 106.5 350.5C107.78 352.9 109.65 355.35 111.2 357.4C112.75 359.45 114.83 360.7 115.8 362.8C116.77 364.9 124.88 368.13 117 370C109.12 371.87 76.58 374.2 68.5 374Z" fill="#00f004"/>
<path d="M74 374C67.92 373 74 368.67 73.5 366C73 363.33 71.83 360.67 71 358C70.17 355.33 69 352.67 68.5 350C68 347.33 67.75 344.5 68 342C68.25 339.5 68.92 337.17 70 335C71.08 332.83 72.83 330.58 74.5 329C76.17 327.42 78.08 326.25 80 325.5C81.92 324.75 84.17 324.42 86 324.5C87.83 324.58 89.67 324.92 91 326C92.33 327.08 93.17 328.83 94 331C94.83 333.17 95.25 336.33 96 339C96.75 341.67 97.5 344.5 98.5 347C99.5 349.5 100.75 351.83 102 354C103.25 356.17 104.83 358.17 106 360C107.17 361.83 108.33 363 109 365C109.67 367 115.83 370.5 110 372C104.17 373.5 80.08 375 74 374Z" fill="#36f80e"/>
<path d="M151 332C147.48 329.63 149.63 334.27 148.9 335.8C148.17 337.33 147.5 339.15 146.6 341.2C145.7 343.25 144.13 345.67 143.5 348.1C142.87 350.53 142.97 353.15 142.8 355.8C142.63 358.45 137.63 363.63 142.5 364C147.37 364.37 167.42 360.33 172 358C176.58 355.67 173.5 354.33 170 350C166.5 345.67 154.52 334.37 151 332Z" fill="#00f004"/>
<path d="M54 235C53.93 236.7 52.63 236.9 51.6 238.2C50.57 239.5 48.7 241.02 47.8 242.8C46.9 244.58 46.2 246.85 46.2 248.9C46.2 250.95 47.15 253.17 47.8 255.1C48.45 257.03 49.33 258.58 50.1 260.5C50.87 262.42 52.15 264.82 52.4 266.6C52.65 268.38 52.37 269.78 51.6 271.2C50.83 272.62 49.72 274.2 47.8 275.1C45.88 276 42.23 276.35 40.1 276.6C37.97 276.85 35.85 286.03 35 276.6C34.15 267.17 32.17 228.1 35 220C37.83 211.9 48.83 225.5 52 228C55.17 230.5 54.07 233.3 54 235Z" fill="#0628e0"/>
<path d="M35 346C35.85 341.08 38.73 346.03 40.1 346.5C41.47 346.97 42.18 347.38 43.2 348.8C44.22 350.22 45.18 352.68 46.2 355C47.22 357.32 48.4 360.27 49.3 362.7C50.2 365.13 51.15 367.38 51.6 369.6C52.05 371.82 54.77 374.93 52 376C49.23 377.07 37.83 381 35 376C32.17 371 34.15 350.92 35 346Z" fill="#0628e0"/>
<path d="M127.5 315C125.75 315.67 124.62 317.17 123.5 318.5C122.38 319.83 121.3 321.42 120.8 323C120.3 324.58 120.05 326.42 120.5 328C120.95 329.58 122.23 331.37 123.5 332.5C124.77 333.63 126.52 334.72 128.1 334.8C129.68 334.88 131.6 333.88 133 333C134.4 332.12 135.5 330.75 136.5 329.5C137.5 328.25 138.25 326.58 139 325.5C139.75 324.42 141.83 324.83 141 323C140.17 321.17 136.25 315.83 134 314.5C131.75 313.17 129.25 314.33 127.5 315Z" fill="#0628e0"/>
<path class="g" d="M40.18 259.23L48.49 259.23L56.8 259.18L65.1 259.08L73.39 258.93L81.66 258.73L89.91 258.49L98.14 258.2L106.34 257.87L114.5 257.48L122.63 257.05L130.72 256.57L138.77 256.04L146.77 255.46L154.71 254.83L162.6 254.15L170.43 253.42L178.2 252.64L185.9 251.81L193.53 250.93L201.08 250L208.55 249.01L215.94 247.96L223.25 246.87L230.46 245.71"/>
<path class="g" d="M40.15 291.91L48.56 291.89L56.97 291.76L65.36 291.54L73.74 291.23L82.11 290.82L90.45 290.32L98.77 289.72L107.05 289.03L115.31 288.24L123.52 287.35L131.69 286.37L139.81 285.28L147.87 284.1L155.88 282.83L163.83 281.45L171.72 279.97L179.53 278.39L187.27 276.71L194.93 274.93L202.51 273.04L210 271.05L217.4 268.95L224.7 266.74L231.9 264.41"/>
<path class="g" d="M40.13 324.1L48.7 324.04L57.27 323.85L65.83 323.51L74.37 323.03L82.9 322.4L91.39 321.63L99.86 320.72L108.3 319.66L116.69 318.46L125.04 317.12L133.34 315.62L141.59 313.98L149.77 312.2L157.89 310.26L165.94 308.18L173.91 305.95L181.81 303.56L189.61 301.03L197.33 298.34L204.95 295.49L212.46 292.49L219.87 289.33L227.16 286.01L234.34 282.53"/>
<path class="g" d="M40.11 355.54L48.92 355.46L57.73 355.19L66.52 354.73L75.3 354.07L84.05 353.22L92.78 352.18L101.47 350.95L110.11 349.52L118.71 347.89L127.26 346.08L135.75 344.06L144.17 341.85L152.53 339.45L160.8 336.85L168.99 334.04L177.09 331.05L185.09 327.85L192.99 324.45L200.77 320.85L208.44 317.04L215.99 313.03L223.4 308.82L230.68 304.39L237.8 299.76"/>
<path class="g" d="M73.28 226.37L73.28 234.52L73.3 242.67L73.34 250.8L73.39 258.93L73.45 267.04L73.53 275.13L73.63 283.19L73.74 291.23L73.88 299.24L74.02 307.21L74.19 315.14L74.37 323.03L74.58 330.87L74.8 338.66L75.04 346.39L75.3 354.07L75.58 361.69L75.89 369.23L76.21 376.71L76.56 384.11"/>
<path class="g" d="M106.11 226.45L106.12 234.31L106.16 242.17L106.23 250.03L106.34 257.87L106.47 265.69L106.63 273.5L106.83 281.28L107.05 289.03L107.31 296.75L107.61 304.43L107.94 312.07L108.3 319.66L108.7 327.21L109.13 334.71L109.6 342.14L110.11 349.52L110.67 356.83L111.26 364.07L111.9 371.23L112.58 378.32"/>
<path class="g" d="M138.44 226.52L138.46 233.91L138.52 241.29L138.62 248.67L138.77 256.04L138.96 263.39L139.2 270.71L139.48 278.01L139.81 285.28L140.18 292.52L140.6 299.72L141.07 306.87L141.59 313.98L142.15 321.04L142.77 328.04L143.45 334.98L144.17 341.85L144.96 348.66L145.8 355.39L146.7 362.04L147.66 368.61"/>
</g>
<path class="o" style="stroke-width:.8;stroke:#1a1a22" d="M40.2 226L40.1 371.3"/>
<path class="o" style="stroke-width:1.1" d="M40.1 370.9L48 371.13L55.9 371.05L63.79 370.75L71.66 370.26L79.52 369.58L87.36 368.71L95.17 367.65L102.94 366.41L110.69 364.97L118.39 363.35L126.05 361.53L133.65 359.52L141.21 357.33L148.7 354.93L156.14 352.33L163.5 349.4"/>
<path class="o" style="stroke-width:1.35;stroke:#000" d="M39.9 226L163.9 349.8"/>
<g clip-path="url(#t5)">
<rect x="199.6" y="223.3" width="129.4" height="150.1" fill="#007092"/>
<path d="M225 242C222.68 241.18 223.62 243.57 222.1 245.1C220.58 246.63 217.5 248.9 215.9 251.2C214.3 253.5 213.05 256.33 212.5 258.9C211.95 261.47 212.27 264.3 212.6 266.6C212.93 268.9 213.43 270.88 214.5 272.7C215.57 274.52 217.08 276.4 219 277.5C220.92 278.6 223.57 279.08 226 279.3C228.43 279.52 231.35 279.3 233.6 278.8C235.85 278.3 237.77 277.35 239.5 276.3C241.23 275.25 242.75 273.75 244 272.5C245.25 271.25 245.83 270.05 247 268.8C248.17 267.55 252.83 268.13 251 265C249.17 261.87 240.33 253.83 236 250C231.67 246.17 227.32 242.82 225 242Z" fill="#00b23c"/>
<path d="M262 277C257.78 274.25 259.28 279.03 257.7 280.5C256.12 281.97 254.25 283.88 252.5 285.8C250.75 287.72 248.53 289.83 247.2 292C245.87 294.17 245.2 296.63 244.5 298.8C243.8 300.97 243.78 303.08 243 305C242.22 306.92 241.5 308.72 239.8 310.3C238.1 311.88 235.23 313.3 232.8 314.5C230.37 315.7 227.5 316.4 225.2 317.5C222.9 318.6 220.8 319.77 219 321.1C217.2 322.43 215.68 324.08 214.4 325.5C213.12 326.92 212.58 328.27 211.3 329.6C210.02 330.93 208.17 332.47 206.7 333.5C205.23 334.53 204.12 335.22 202.5 335.8C200.88 336.38 197.92 329.97 197 337C196.08 344.03 184.5 372.17 197 378C209.5 383.83 259.52 374.42 272 372C284.48 369.58 272.17 365.55 271.9 363.5C271.63 361.45 271.03 361.62 270.4 359.7C269.77 357.78 269 354.57 268.1 352C267.2 349.43 266.03 346.87 265 344.3C263.97 341.73 262.73 339.23 261.9 336.6C261.07 333.97 260.15 330.77 260 328.5C259.85 326.23 260.42 324.83 261 323C261.58 321.17 262.5 319.25 263.5 317.5C264.5 315.75 265.28 314.45 267 312.5C268.72 310.55 271.88 307.68 273.8 305.8C275.72 303.92 276.97 302.67 278.5 301.2C280.03 299.73 285.75 301.03 283 297C280.25 292.97 266.22 279.75 262 277Z" fill="#00b23c"/>
<path d="M307 325C305.63 324.75 305.1 326.95 303.8 328.5C302.5 330.05 300.42 332.25 299.2 334.3C297.98 336.35 297.07 338.43 296.5 340.8C295.93 343.17 295.85 346.13 295.8 348.5C295.75 350.87 296.02 353.42 296.2 355C296.38 356.58 296.77 356.17 296.9 358C297.03 359.83 290.82 365.67 297 366C303.18 366.33 327.83 362.67 334 360C340.17 357.33 337.67 355 334 350C330.33 345 316.5 334.17 312 330C307.5 325.83 308.37 325.25 307 325Z" fill="#00b23c"/>
<path d="M228.5 246.5C227.32 246.45 226.97 248.27 225.9 249.7C224.83 251.13 223 253.18 222.1 255.1C221.2 257.02 220.38 259.28 220.5 261.2C220.62 263.12 221.38 265.32 222.8 266.6C224.22 267.88 226.93 268.77 229 268.9C231.07 269.03 233.53 268.42 235.2 267.4C236.87 266.38 237.7 264.2 239 262.8C240.3 261.4 244 261.13 243 259C242 256.87 235.42 252.08 233 250C230.58 247.92 229.68 246.55 228.5 246.5Z" fill="#00f004"/>
<path d="M197 348.5C197.92 343.18 200.63 348.55 202.5 348.1C204.37 347.65 206.22 346.95 208.2 345.8C210.18 344.65 212.6 343 214.4 341.2C216.2 339.4 217.47 336.93 219 335C220.53 333.07 221.8 331.02 223.6 329.6C225.4 328.18 227.48 327.13 229.8 326.5C232.12 325.87 235.07 325.42 237.5 325.8C239.93 326.18 242.57 327.27 244.4 328.8C246.23 330.33 247.47 332.68 248.5 335C249.53 337.32 250.2 339.88 250.6 342.7C251 345.52 251.12 348.82 250.9 351.9C250.68 354.98 249.95 358.68 249.3 361.2C248.65 363.72 247.47 364.53 247 367C246.53 369.47 254.83 373.83 246.5 376C238.17 378.17 205.25 384.58 197 380C188.75 375.42 196.08 353.82 197 348.5Z" fill="#00f004"/>
<path d="M197 353C197.92 348.42 200.33 353.17 202.5 352.5C204.67 351.83 207.67 350.42 210 349C212.33 347.58 214.58 345.83 216.5 344C218.42 342.17 220 339.83 221.5 338C223 336.17 223.92 334.28 225.5 333C227.08 331.72 229 330.87 231 330.3C233 329.73 235.5 329.32 237.5 329.6C239.5 329.88 241.62 330.77 243 332C244.38 333.23 245.1 335.08 245.8 337C246.5 338.92 246.95 341 247.2 343.5C247.45 346 247.53 349.25 247.3 352C247.07 354.75 246.43 357.67 245.8 360C245.17 362.33 243.97 363.33 243.5 366C243.03 368.67 250.75 373.67 243 376C235.25 378.33 204.67 383.83 197 380C189.33 376.17 196.08 357.58 197 353Z" fill="#36f80e"/>
<path d="M314 332C312.8 332 312.5 334.35 311.8 336C311.1 337.65 310.3 339.88 309.8 341.9C309.3 343.92 308.87 346.12 308.8 348.1C308.73 350.08 309.28 351.48 309.4 353.8C309.52 356.12 305.07 361.63 309.5 362C313.93 362.37 332.08 358.33 336 356C339.92 353.67 335.83 351.33 333 348C330.17 344.67 322.17 338.67 319 336C315.83 333.33 315.2 332 314 332Z" fill="#00f004"/>
<path d="M197 248C197.92 252.63 200.88 248.03 202.5 247.8C204.12 247.57 205.23 247.43 206.7 246.6C208.17 245.77 210.02 244.08 211.3 242.8C212.58 241.52 213.28 240.2 214.4 238.9C215.52 237.6 219.4 238.15 218 235C216.6 231.85 209.5 222.5 206 220C202.5 217.5 198.5 215.33 197 220C195.5 224.67 196.08 243.37 197 248Z" fill="#0628e0"/>
<path d="M197 283.3C197.92 277.37 200.63 283.25 202.5 283.4C204.37 283.55 206.22 283.43 208.2 284.2C210.18 284.97 212.6 286.33 214.4 288C216.2 289.67 218.03 292.15 219 294.2C219.97 296.25 220.33 298.25 220.2 300.3C220.07 302.35 219.3 304.45 218.2 306.5C217.1 308.55 215.38 310.82 213.6 312.6C211.82 314.38 209.35 316.17 207.5 317.2C205.65 318.23 204.25 318.5 202.5 318.8C200.75 319.1 197.92 324.92 197 319C196.08 313.08 196.08 289.23 197 283.3Z" fill="#0628e0"/>
<path d="M288.5 311.3C287.25 311.88 285.75 313.05 284.5 314.5C283.25 315.95 282.12 317.85 281 320C279.88 322.15 278.1 325.35 277.8 327.4C277.5 329.45 278.25 331.2 279.2 332.3C280.15 333.4 282.15 334.18 283.5 334C284.85 333.82 286.02 332.45 287.3 331.2C288.58 329.95 289.83 328.12 291.2 326.5C292.57 324.88 294.28 322.83 295.5 321.5C296.72 320.17 299.08 320.25 298.5 318.5C297.92 316.75 293.67 312.2 292 311C290.33 309.8 289.75 310.72 288.5 311.3Z" fill="#0628e0"/>
<path class="g" d="M202.55 259.12L210.88 259.14L219.2 259.11L227.51 259.03L235.81 258.9L244.1 258.73L252.36 258.51L260.6 258.25L268.81 257.93L276.99 257.57L285.14 257.16L293.24 256.7L301.3 256.2L309.31 255.64L317.27 255.03L325.17 254.38L333.01 253.67L340.79 252.92L348.5 252.11L356.14 251.25L363.7 250.34L371.19 249.37L378.59 248.35L385.91 247.28L393.13 246.15"/>
<path class="g" d="M202.51 291.69L210.93 291.68L219.35 291.58L227.75 291.39L236.15 291.1L244.53 290.71L252.88 290.23L261.21 289.66L269.51 288.99L277.78 288.22L286 287.36L294.18 286.4L302.31 285.34L310.4 284.19L318.42 282.94L326.38 281.59L334.28 280.13L342.11 278.58L349.86 276.93L357.53 275.17L365.12 273.31L372.63 271.34L380.04 269.27L387.35 267.08L394.56 264.79"/>
<path class="g" d="M202.46 323.76L211.05 323.73L219.63 323.56L228.2 323.24L236.76 322.78L245.29 322.18L253.81 321.44L262.29 320.55L270.74 319.52L279.14 318.35L287.51 317.03L295.82 315.56L304.08 313.95L312.28 312.19L320.41 310.28L328.47 308.23L336.46 306.02L344.37 303.67L352.19 301.16L359.91 298.5L367.55 295.69L375.08 292.72L382.5 289.59L389.8 286.3L396.99 282.85"/>
<path class="g" d="M202.42 355.09L211.25 355.03L220.07 354.79L228.87 354.35L237.66 353.72L246.43 352.9L255.17 351.89L263.87 350.68L272.53 349.28L281.15 347.68L289.71 345.89L298.21 343.91L306.65 341.73L315.02 339.35L323.3 336.78L331.51 334.01L339.62 331.04L347.64 327.88L355.55 324.51L363.35 320.94L371.03 317.17L378.59 313.2L386.02 309.01L393.31 304.62L400.45 300.03"/>
<path class="g" d="M235.73 226.46L235.73 234.58L235.74 242.7L235.77 250.81L235.81 258.9L235.87 266.99L235.95 275.05L236.04 283.08L236.15 291.1L236.28 299.07L236.42 307.02L236.58 314.92L236.76 322.78L236.96 330.6L237.17 338.36L237.41 346.07L237.66 353.72L237.94 361.31L238.24 368.83L238.56 376.29L238.91 383.66"/>
<path class="g" d="M268.61 226.62L268.62 234.46L268.65 242.29L268.72 250.12L268.81 257.93L268.94 265.73L269.1 273.51L269.29 281.26L269.51 288.99L269.77 296.68L270.06 304.34L270.38 311.95L270.74 319.52L271.13 327.04L271.56 334.51L272.03 341.92L272.53 349.28L273.08 356.56L273.67 363.78L274.3 370.92L274.98 377.99"/>
<path class="g" d="M300.99 226.78L301 234.14L301.06 241.5L301.15 248.86L301.3 256.2L301.48 263.52L301.72 270.82L301.99 278.1L302.31 285.34L302.68 292.56L303.1 299.73L303.56 306.86L304.08 313.95L304.64 320.98L305.26 327.96L305.93 334.88L306.65 341.73L307.43 348.51L308.27 355.22L309.17 361.85L310.13 368.4"/>
</g>
<path class="o" style="stroke-width:.8;stroke:#1a1a22" d="M202.6 226L202.4 370.8"/>
<path class="o" style="stroke-width:1.1" d="M202.4 370.4L210.31 370.69L218.22 370.64L226.12 370.39L234.01 369.93L241.88 369.28L249.73 368.44L257.55 367.41L265.34 366.19L273.1 364.78L280.81 363.18L288.48 361.38L296.1 359.39L303.67 357.21L311.18 354.83L318.62 352.24L326 349.3"/>
<path class="o" style="stroke-width:1.35;stroke:#000" d="M202.3 226L326.4 349.7"/>
<g clip-path="url(#t6)">
<rect x="362.2" y="223.3" width="127.6" height="150.2" fill="#0628e0"/>
<path d="M411 266.5C396.53 253.08 408.93 268.15 408.2 269.5C407.47 270.85 406.73 272.72 406.6 274.6C406.47 276.48 406.9 278.75 407.4 280.8C407.9 282.85 409.3 284.95 409.6 286.9C409.9 288.85 409.72 290.82 409.2 292.5C408.68 294.18 408.03 295.75 406.5 297C404.97 298.25 402.5 299.12 400 300C397.5 300.88 394.25 301.38 391.5 302.3C388.75 303.22 385.85 304.28 383.5 305.5C381.15 306.72 379.45 308.53 377.4 309.6C375.35 310.67 373.2 311.25 371.2 311.9C369.2 312.55 367.27 313.1 365.4 313.5C363.53 313.9 360.9 303.22 360 314.3C359.1 325.38 337.5 369.05 360 380C382.5 390.95 472.5 385 495 380C517.5 375 509 368.92 495 350C481 331.08 425.47 279.92 411 266.5Z" fill="#007092"/>
<path d="M433 288.5C422.23 278.75 431.22 290.03 430.4 291.5C429.58 292.97 429.25 295.57 428.1 297.3C426.95 299.03 425.3 300.52 423.5 301.9C421.7 303.28 419.35 304.48 417.3 305.6C415.25 306.72 413.25 307.77 411.2 308.6C409.15 309.43 406.78 310.05 405 310.6C403.22 311.15 402.53 311.3 400.5 311.9C398.47 312.5 395.12 313.17 392.8 314.2C390.48 315.23 388.15 316.55 386.6 318.1C385.05 319.65 384.4 321.63 383.5 323.5C382.6 325.37 382.15 327.72 381.2 329.3C380.25 330.88 379.47 332.1 377.8 333C376.13 333.9 373.27 334.32 371.2 334.7C369.13 335.08 367.27 335.17 365.4 335.3C363.53 335.43 360.9 328.05 360 335.5C359.1 342.95 337.5 372.58 360 380C382.5 387.42 472.5 385 495 380C517.5 375 505.33 365.25 495 350C484.67 334.75 443.77 298.25 433 288.5Z" fill="#00b23c"/>
<path d="M438 293.5C428 284.58 435.75 295.35 435 296.5C434.25 297.65 434.4 298.85 433.5 300.4C432.6 301.95 431.02 304.13 429.6 305.8C428.18 307.47 426.4 308.73 425 310.4C423.6 312.07 422.07 314 421.2 315.8C420.33 317.6 419.92 319.33 419.8 321.2C419.68 323.07 419.7 324.95 420.5 327C421.3 329.05 423.15 331.52 424.6 333.5C426.05 335.48 427.78 336.85 429.2 338.9C430.62 340.95 432.07 343.37 433.1 345.8C434.13 348.23 434.77 350.93 435.4 353.5C436.03 356.07 436.52 359.53 436.9 361.2C437.28 362.87 437.52 361.7 437.7 363.5C437.88 365.3 428.45 371.25 438 372C447.55 372.75 485.5 371.67 495 368C504.5 364.33 504.5 362.42 495 350C485.5 337.58 448 302.42 438 293.5Z" fill="#00f004"/>
<path d="M439.5 295.5C429.8 286.88 437.58 297.22 436.8 298.3C436.02 299.38 435.77 300.52 434.8 302C433.83 303.48 432.37 305.53 431 307.2C429.63 308.87 427.93 310.37 426.6 312C425.27 313.63 423.83 315.33 423 317C422.17 318.67 421.63 320.42 421.6 322C421.57 323.58 422.18 325.2 422.8 326.5C423.42 327.8 424.35 328.93 425.3 329.8C426.25 330.67 427.05 331 428.5 331.7C429.95 332.4 431.92 333.28 434 334C436.08 334.72 438.42 335.25 441 336C443.58 336.75 447 337.58 449.5 338.5C452 339.42 454.25 340.33 456 341.5C457.75 342.67 459.05 343.92 460 345.5C460.95 347.08 461.33 348.83 461.7 351C462.07 353.17 462.1 356 462.2 358.5C462.3 361 456.83 365.08 462.3 366C467.77 366.92 489.55 366.67 495 364C500.45 361.33 504.25 361.42 495 350C485.75 338.58 449.2 304.12 439.5 295.5Z" fill="#36f80e"/>
<path d="M446 301.5C437.37 293.93 443.98 303.27 443.2 304.6C442.42 305.93 441.77 307.7 441.3 309.5C440.83 311.3 440.35 312.88 440.4 315.4C440.45 317.92 440.63 322.03 441.6 324.6C442.57 327.17 444.15 329.27 446.2 330.8C448.25 332.33 451.58 332.85 453.9 333.8C456.22 334.75 458.62 335.33 460.1 336.5C461.58 337.67 462.28 338.93 462.8 340.8C463.32 342.67 463.07 345.5 463.2 347.7C463.33 349.9 463.48 352.2 463.6 354C463.72 355.8 463.83 356.5 463.9 358.5C463.97 360.5 458.82 365.08 464 366C469.18 366.92 489.83 366.67 495 364C500.17 361.33 503.17 360.42 495 350C486.83 339.58 454.63 309.07 446 301.5Z" fill="#92fa00"/>
<path d="M450.5 306.5C442.63 299.72 448.55 308.22 447.8 309.3C447.05 310.38 446.38 311.63 446 313C445.62 314.37 445.47 315.82 445.5 317.5C445.53 319.18 445.32 321.4 446.2 323.1C447.08 324.8 448.75 326.55 450.8 327.7C452.85 328.85 456.05 329.68 458.5 330C460.95 330.32 463.95 329.08 465.5 329.6C467.05 330.12 467.22 331.62 467.8 333.1C468.38 334.58 468.9 336.32 469 338.5C469.1 340.68 468.57 343.9 468.4 346.2C468.23 348.5 467.97 350.77 468 352.3C468.03 353.83 468.43 353.62 468.6 355.4C468.77 357.18 464.6 362.07 469 363C473.4 363.93 490.67 363.17 495 361C499.33 358.83 502.42 359.08 495 350C487.58 340.92 458.37 313.28 450.5 306.5Z" fill="#f6ff00"/>
<path d="M474.5 331.5C473.53 332.07 473.5 333.73 473.2 335.4C472.9 337.07 472.87 339.45 472.7 341.5C472.53 343.55 472.12 345.65 472.2 347.7C472.28 349.75 472.98 351.58 473.2 353.8C473.42 356.02 469.87 360.13 473.5 361C477.13 361.87 491.42 360.83 495 359C498.58 357.17 497.67 354.5 495 350C492.33 345.5 482.42 335.08 479 332C475.58 328.92 475.47 330.93 474.5 331.5Z" fill="#ffc400"/>
<path d="M477.5 334.5C476.53 335.08 476.52 336.95 476.2 338.5C475.88 340.05 475.7 342.02 475.6 343.8C475.5 345.58 475.5 347.65 475.6 349.2C475.7 350.75 476.05 351.3 476.2 353.1C476.35 354.9 473.37 359.18 476.5 360C479.63 360.82 491.92 359.67 495 358C498.08 356.33 497.17 353.83 495 350C492.83 346.17 484.92 337.58 482 335C479.08 332.42 478.47 333.92 477.5 334.5Z" fill="#ff7e00"/>
<path d="M481.5 338.5C480.52 339.05 480.45 341.02 480.1 342.3C479.75 343.58 479.52 344.92 479.4 346.2C479.28 347.48 479.28 348.98 479.4 350C479.52 351.02 479.92 350.8 480.1 352.3C480.28 353.8 478.02 358.22 480.5 359C482.98 359.78 492.58 358.5 495 357C497.42 355.5 496.5 353 495 350C493.5 347 488.25 340.92 486 339C483.75 337.08 482.48 337.95 481.5 338.5Z" fill="#ff2a00"/>
<path d="M382.8 377C374.52 374.25 382.38 361.97 382.3 356.5C382.22 351.03 381.97 347.15 382.3 344.2C382.63 341.25 383.07 339.97 384.3 338.8C385.53 337.63 387.42 337.5 389.7 337.2C391.98 336.9 395.4 336.97 398 337C400.6 337.03 402.82 336.97 405.3 337.4C407.78 337.83 410.35 338.48 412.9 339.6C415.45 340.72 418.35 342.28 420.6 344.1C422.85 345.92 424.9 348.37 426.4 350.5C427.9 352.63 428.75 354.55 429.6 356.9C430.45 359.25 431.1 361.92 431.5 364.6C431.9 367.28 440.12 370.93 432 373C423.88 375.07 391.08 379.75 382.8 377Z" fill="#007092"/>
<path d="M395.1 376C391 374.02 394.58 364.73 395.1 361.1C395.62 357.47 396.8 355.83 398.2 354.2C399.6 352.57 401.58 351.7 403.5 351.3C405.42 350.9 407.95 351.3 409.7 351.8C411.45 352.3 412.72 353.13 414 354.3C415.28 355.47 416.5 357.08 417.4 358.8C418.3 360.52 419.02 362.23 419.4 364.6C419.78 366.97 423.75 371.1 419.7 373C415.65 374.9 399.2 377.98 395.1 376Z" fill="#0628e0"/>
<path d="M360 357C360.9 353.7 364.03 356.9 365.4 357.2C366.77 357.5 367.48 357.63 368.2 358.8C368.92 359.97 369.58 362.42 369.7 364.2C369.82 365.98 369.1 367.37 368.9 369.5C368.7 371.63 369.98 375.75 368.5 377C367.02 378.25 361.42 380.33 360 377C358.58 373.67 359.1 360.3 360 357Z" fill="#00f004"/>
<path class="g" d="M365.25 259.14L373.43 259.13L381.6 259.06L389.77 258.95L397.93 258.8L406.07 258.59L414.19 258.34L422.28 258.04L430.35 257.69L438.39 257.3L446.39 256.86L454.35 256.37L462.27 255.83L470.14 255.24L477.96 254.6L485.72 253.92L493.43 253.18L501.07 252.39L508.64 251.55L516.15 250.66L523.58 249.72L530.93 248.73L538.2 247.68L545.39 246.57L552.48 245.41"/>
<path class="g" d="M365.29 291.73L373.57 291.69L381.84 291.56L390.1 291.33L398.35 291.01L406.58 290.59L414.79 290.08L422.97 289.47L431.12 288.77L439.24 287.97L447.32 287.07L455.36 286.08L463.35 284.99L471.29 283.81L479.17 282.52L486.99 281.14L494.75 279.65L502.43 278.07L510.05 276.38L517.58 274.59L525.04 272.7L532.4 270.7L539.68 268.6L546.86 266.38L553.94 264.06"/>
<path class="g" d="M365.34 323.83L373.77 323.76L382.2 323.56L390.62 323.21L399.03 322.72L407.42 322.08L415.78 321.3L424.11 320.38L432.41 319.32L440.67 318.11L448.88 316.75L457.05 315.25L465.16 313.61L473.21 311.82L481.2 309.88L489.12 307.79L496.96 305.55L504.72 303.17L512.4 300.63L519.99 297.93L527.48 295.09L534.87 292.09L542.15 288.93L549.32 285.61L556.38 282.12"/>
<path class="g" d="M365.38 355.18L374.05 355.09L382.72 354.81L391.37 354.34L400.01 353.67L408.62 352.82L417.2 351.77L425.75 350.52L434.26 349.09L442.72 347.46L451.13 345.63L459.48 343.61L467.76 341.4L475.98 338.99L484.12 336.38L492.17 333.58L500.13 330.58L508 327.38L515.77 323.98L523.42 320.38L530.96 316.57L538.38 312.56L545.67 308.35L552.82 303.93L559.82 299.3"/>
<path class="g" d="M397.76 226.33L397.78 234.46L397.81 242.58L397.86 250.69L397.93 258.8L398.01 266.88L398.1 274.95L398.22 282.99L398.35 291.01L398.49 298.99L398.65 306.94L398.83 314.85L399.03 322.72L399.25 330.54L399.48 338.3L399.73 346.02L400.01 353.67L400.3 361.26L400.62 368.79L400.95 376.25L401.31 383.63"/>
<path class="g" d="M430.07 226.36L430.09 234.2L430.15 242.04L430.24 249.88L430.35 257.69L430.5 265.5L430.68 273.28L430.88 281.04L431.12 288.77L431.4 296.46L431.7 304.12L432.04 311.74L432.41 319.32L432.82 326.84L433.26 334.32L433.74 341.73L434.26 349.09L434.82 356.37L435.42 363.59L436.06 370.74L436.74 377.81"/>
<path class="g" d="M461.89 226.39L461.92 233.76L461.99 241.13L462.11 248.48L462.27 255.83L462.47 263.16L462.72 270.46L463.01 277.74L463.35 284.99L463.73 292.21L464.16 299.39L464.64 306.52L465.16 313.61L465.73 320.65L466.36 327.63L467.03 334.54L467.76 341.4L468.55 348.18L469.39 354.89L470.29 361.53L471.25 368.08"/>
</g>
<path class="o" style="stroke-width:.8;stroke:#1a1a22" d="M365.2 226L365.4 370.9"/>
<path class="o" style="stroke-width:1.1" d="M365.4 370.5L373.18 370.72L380.95 370.63L388.71 370.32L396.46 369.83L404.19 369.14L411.9 368.26L419.58 367.19L427.24 365.94L434.85 364.5L442.43 362.87L449.96 361.05L457.45 359.04L464.88 356.83L472.25 354.44L479.56 351.83L486.8 348.9"/>
<path class="o" style="stroke-width:1.35;stroke:#000" d="M364.9 226L487.2 349.3"/>
<path d="M73.1 66.9L74.61 71.69L79.4 73.2L74.61 74.71L73.1 79.5L71.59 74.71L66.8 73.2L71.59 71.69L73.1 66.9Z" fill="#ff1a1a" />
<path d="M202 28.5L203.56 33.44L208.5 35L203.56 36.56L202 41.5L200.44 36.56L195.5 35L200.44 33.44L202 28.5Z" fill="#ff1a1a" />
<path d="M365 27.5L366.57 33.42L372.5 35L366.57 36.58L365 42.5L363.43 36.58L357.5 35L363.43 33.42L365 27.5Z" fill="url(#ys)" stroke="#ffa400" stroke-width=".5"/>
<path d="M83.6 344.5L85.09 349.21L89.8 350.7L85.09 352.19L83.6 356.9L82.11 352.19L77.4 350.7L82.11 349.21L83.6 344.5Z" fill="#ff1a1a" />
<path d="M205 363.9L206.56 368.84L211.5 370.4L206.56 371.96L205 376.9L203.44 371.96L198.5 370.4L203.44 368.84L205 363.9Z" fill="#ff1a1a" />
<path d="M485.9 341L487.5 347L493.5 348.6L487.5 350.2L485.9 356.2L484.3 350.2L478.3 348.6L484.3 347L485.9 341Z" fill="url(#ys)" stroke="#ffa400" stroke-width=".5"/>
<rect x="527.1" y="30.7" width="11" height="11.8" fill="#ff2a00"/>
<rect x="527.1" y="42.3" width="11" height="13.8" fill="#ff7e00"/>
<rect x="527.1" y="55.9" width="11" height="13.9" fill="#ffc400"/>
<rect x="527.1" y="69.6" width="11" height="14.1" fill="#f6ff00"/>
<rect x="527.1" y="83.5" width="11" height="13.5" fill="#92fa00"/>
<rect x="527.1" y="96.8" width="11" height="14.1" fill="#36f80e"/>
<rect x="527.1" y="110.7" width="11" height="14.1" fill="#00f004"/>
<rect x="527.1" y="124.6" width="11" height="13.8" fill="#00b23c"/>
<rect x="527.1" y="138.2" width="11" height="13.6" fill="#007092"/>
<rect x="527.1" y="151.6" width="11" height="13.4" fill="#0628e0"/>
<rect x="527.1" y="30.7" width="11" height="134.3" fill="none" stroke="#5a6ad0" stroke-width=".6"/>
<rect x="526.8" y="224.2" width="11" height="11.9" fill="#ff2a00"/>
<rect x="526.8" y="235.9" width="11" height="13.8" fill="#ff7e00"/>
<rect x="526.8" y="249.5" width="11" height="13.9" fill="#ffc400"/>
<rect x="526.8" y="263.2" width="11" height="14.6" fill="#f6ff00"/>
<rect x="526.8" y="277.6" width="11" height="13.6" fill="#92fa00"/>
<rect x="526.8" y="291" width="11" height="14" fill="#36f80e"/>
<rect x="526.8" y="304.8" width="11" height="14.1" fill="#00f004"/>
<rect x="526.8" y="318.7" width="11" height="14.2" fill="#00b23c"/>
<rect x="526.8" y="332.7" width="11" height="13.3" fill="#007092"/>
<rect x="526.8" y="345.8" width="11" height="12.9" fill="#0628e0"/>
<rect x="526.8" y="224.2" width="11" height="134.5" fill="none" stroke="#222" stroke-width=".6"/>
<text x="4" y="16.6" class="p">(a)</text>
<text x="3.9" y="219.1" class="p">(b)</text>
<text x="59.3" y="15.8" class="t">Rolling Direction</text>
<text x="218" y="15.8" class="t">Transverse Direction</text>
<text x="390" y="15.8" class="t">Normal Direction</text>
<text x="61.4" y="212.7" class="t">Rolling Direction</text>
<text x="218.5" y="212.6" class="t">Transverse Direction</text>
<text x="394.8" y="213.3" class="t">Normal Direction</text>
<text x="80" y="49" class="t">Orientation: &lt;114&gt;</text>
<text x="80" y="67.2" class="t">Polar density: 2.05</text>
<text x="233.9" y="45.9" class="t">Orientation: &lt;001&gt;</text>
<text x="233.9" y="63.7" class="t">Polar density: 2.03</text>
<text x="401.6" y="43.6" class="t">Orientation: &lt;001&gt;</text>
<text x="401.6" y="62" class="t">Polar density: 2.65</text>
<text x="81" y="242.6" class="t">Orientation: &lt;313&gt;</text>
<text x="81" y="260.5" class="t">Polar density: 1.75</text>
<text x="240.8" y="243.2" class="t">Orientation: &lt;101&gt;</text>
<text x="240.8" y="261" class="t">Polar density: 2.05</text>
<text x="405.8" y="244" class="t">Orientation: &lt;111&gt;</text>
<text x="405.8" y="261.8" class="t">Polar density: 4.10</text>
<text x="32" y="26.8" class="l">001</text>
<text x="193" y="27" class="l">001</text>
<text x="355.7" y="26.8" class="l">001</text>
<text x="33.8" y="220.9" class="l">001</text>
<text x="195" y="220.4" class="l">001</text>
<text x="357.5" y="220.4" class="l">001</text>
<text x="29.4" y="192.3" class="l">101</text>
<text x="192.7" y="192.3" class="l">101</text>
<text x="356.5" y="192.3" class="l">101</text>
<text x="31.5" y="385.5" class="l">101</text>
<text x="195" y="385.2" class="l">101</text>
<text x="358.3" y="385.2" class="l">101</text>
<text x="164" y="171.5" class="l">111</text>
<text x="327.7" y="171.6" class="l">111</text>
<text x="492.6" y="171.3" class="l">111</text>
<text x="168.8" y="364.2" class="l">111</text>
<text x="330.2" y="364.5" class="l">111</text>
<text x="492.3" y="364" class="l">111</text>
<text x="519.6" y="24" class="c">2.68</text>
<text x="520" y="183" class="c">0.21</text>
<text x="519" y="217.4" class="c">4.10</text>
<text x="520.5" y="375.6" class="c">0.09</text>
</svg>
</body></html>
